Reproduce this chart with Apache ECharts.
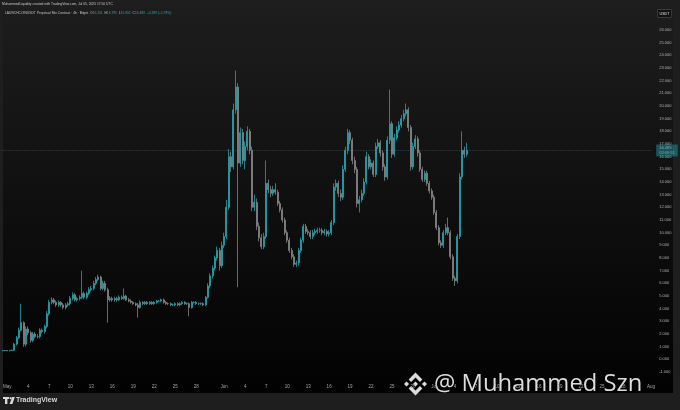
<!DOCTYPE html>
<html><head><meta charset="utf-8">
<script src="https://cdn.jsdelivr.net/npm/echarts@6/dist/echarts.min.js"></script>
<style>html,body{margin:0;padding:0;background:#1e1e1e;}#c{width:680px;height:410px;}</style>
</head><body><div id="c"></div>
<script>
// ---- time slots (8h candles), first slot Apr 30 08:00 UTC, last slot Aug 1 00:00 UTC
const firstSlotUTC = [2025, 3, 30, 8];
const slotHours = 8;
const slotCount = 279;
const tickDays = [1, 4, 7, 10, 13, 16, 19, 22, 25, 28];
const monthNames = ['Jan','Feb','Mar','Apr','May','Jun','Jul','Aug','Sep','Oct','Nov','Dec'];

// ---- candle values
const opens = [
 0.70,0.70,0.70,0.68,0.70,0.72,1.20,1.70,2.30,2.90,
 1.20,2.40,2.10,1.50,2.00,1.80,1.80,2.30,2.20,2.60,
 3.60,4.50,4.70,4.50,4.30,4.50,4.30,4.10,4.30,4.40,
 4.80,5.10,4.70,4.80,4.90,5.20,4.90,5.20,5.50,5.60,
 6.00,6.30,6.50,5.60,6.00,5.50,4.70,4.80,4.70,4.80,
 4.70,4.90,4.80,5.00,4.70,4.60,4.50,4.40,4.30,4.10,
 4.50,4.40,4.50,4.40,4.50,4.40,4.50,4.60,4.60,4.70,
 4.50,4.40,4.40,4.30,4.30,4.40,4.30,4.40,4.50,4.40,
 4.40,4.10,4.50,4.50,4.40,4.40,4.40,4.30,4.90,5.80,
 6.60,7.20,8.00,8.60,7.40,9.00,9.70,12.00,16.00,15.20,
 19.70,21.50,15.50,17.90,15.70,16.80,18.00,16.50,12.00,12.40,
 10.50,9.60,8.90,9.70,13.90,13.40,13.10,13.40,13.20,12.30,
 11.80,11.00,10.00,9.40,8.60,8.10,7.50,7.60,8.60,9.40,
 10.50,10.10,10.00,9.70,10.00,10.10,10.20,10.20,10.00,10.10,
 9.90,10.00,10.80,13.60,13.90,13.10,12.80,15.00,16.50,17.90,
 17.30,15.70,15.00,12.30,12.60,13.10,14.00,16.00,15.20,15.50,
 14.60,16.80,17.10,16.30,15.20,14.40,17.30,18.60,16.20,17.50,
 18.10,18.50,19.00,19.40,19.70,18.30,15.20,16.80,17.40,16.30,
 15.00,14.20,14.70,13.90,13.30,12.80,11.60,10.40,9.20,9.00,
 10.00,10.40,10.00,8.10,6.40,6.20,9.70,14.40,16.50,16.20
];
const closes = [
 0.70,0.70,0.68,0.70,0.72,1.20,1.70,2.30,2.90,1.20,
 2.40,2.10,1.50,2.00,1.80,1.80,2.30,2.20,2.60,3.60,
 4.50,4.70,4.50,4.30,4.50,4.30,4.10,4.30,4.40,4.80,
 5.10,4.70,4.80,4.90,5.20,4.90,5.20,5.50,5.60,6.00,
 6.30,6.50,5.60,6.00,5.50,4.70,4.80,4.70,4.80,4.70,
 4.90,4.80,5.00,4.70,4.60,4.50,4.40,4.30,4.10,4.50,
 4.40,4.50,4.40,4.50,4.40,4.50,4.60,4.60,4.70,4.50,
 4.40,4.40,4.30,4.30,4.40,4.30,4.40,4.50,4.40,4.40,
 4.10,4.50,4.50,4.40,4.40,4.40,4.30,4.90,5.80,6.60,
 7.20,8.00,8.60,7.40,9.00,9.70,12.00,16.00,15.20,19.70,
 21.50,15.50,17.90,15.70,16.80,18.00,16.50,12.00,12.40,10.50,
 9.60,8.90,9.70,13.90,13.40,13.10,13.40,13.20,12.30,11.80,
 11.00,10.00,9.40,8.60,8.10,7.50,7.60,8.60,9.40,10.50,
 10.10,10.00,9.70,10.00,10.10,10.20,10.20,10.00,10.10,9.90,
 10.00,10.80,13.60,13.90,13.10,12.80,15.00,16.50,17.90,17.30,
 15.70,15.00,12.30,12.60,13.10,14.00,16.00,15.20,15.50,14.60,
 16.80,17.10,16.30,15.20,14.40,17.30,18.60,16.20,17.50,18.10,
 18.50,19.00,19.40,19.70,18.30,15.20,16.80,17.40,16.30,15.00,
 14.20,14.70,13.90,13.30,12.80,11.60,10.40,9.20,9.00,10.00,
 10.40,10.00,8.10,6.40,6.20,9.70,14.40,16.50,16.20,16.489
];
const lows = [
 0.66,0.66,0.64,0.64,0.66,0.68,1.10,1.60,2.20,1.00,
 1.00,1.90,1.30,1.35,1.65,1.65,1.65,2.05,2.05,2.45,
 3.45,4.35,4.35,4.15,4.15,4.15,3.95,3.95,4.15,4.25,
 4.65,4.55,4.55,4.65,4.75,4.75,4.75,5.05,5.35,5.45,
 5.85,6.15,5.45,5.45,5.35,2.90,4.55,4.55,4.55,4.55,
 4.60,4.70,4.70,4.60,4.50,4.40,4.30,4.20,3.30,4.00,
 4.30,4.30,4.30,4.30,4.30,4.30,4.40,4.50,4.50,4.40,
 4.30,4.30,4.20,4.20,4.20,4.20,4.20,4.30,4.30,4.30,
 3.40,4.00,4.40,4.30,4.30,4.30,4.20,4.20,4.80,5.60,
 6.40,7.00,7.80,7.00,7.20,8.80,9.50,11.80,14.80,15.00,
 19.40,5.70,15.20,15.40,15.00,16.50,16.20,11.70,11.70,10.20,
 9.30,8.70,8.70,9.50,13.10,12.80,12.90,13.00,12.10,11.60,
 10.80,9.80,9.20,8.40,7.90,7.30,7.30,7.40,8.40,9.20,
 9.90,9.80,9.50,9.50,9.80,9.90,10.00,9.80,9.80,9.70,
 9.70,9.80,10.60,13.30,12.80,12.50,12.60,14.80,16.20,17.00,
 15.40,14.70,12.00,11.60,12.40,12.90,13.80,15.00,15.00,14.40,
 14.40,16.60,16.00,14.90,14.10,14.20,17.00,15.90,16.00,17.30,
 17.90,18.30,18.80,19.20,18.00,14.90,15.00,16.60,16.00,14.80,
 14.00,14.00,13.70,13.10,12.60,11.40,10.20,9.00,8.80,8.80,
 9.80,9.80,7.90,6.20,5.80,6.00,9.50,14.20,15.90,16.00
];
const highs = [
 0.75,0.74,0.73,0.74,0.78,1.30,1.85,2.50,4.40,3.00,
 2.60,2.60,2.25,2.15,2.15,2.00,2.45,2.45,2.75,3.80,
 4.70,4.90,4.85,4.65,4.65,4.60,4.45,4.45,4.55,5.00,
 5.30,5.25,4.95,5.05,7.00,5.35,5.35,5.70,5.80,6.20,
 6.50,6.70,6.60,6.20,6.20,5.65,5.00,4.95,4.95,4.95,
 5.05,5.05,5.60,5.10,4.85,4.75,4.60,4.50,4.45,4.65,
 4.60,4.60,4.60,4.60,4.60,4.60,4.70,4.70,4.80,4.80,
 4.60,4.50,4.50,4.40,4.50,4.50,4.50,4.60,4.60,4.50,
 4.50,4.60,4.60,4.60,4.50,4.50,4.50,5.00,6.00,6.80,
 7.40,8.20,8.90,8.80,9.30,10.00,12.60,16.60,16.40,20.20,
 22.80,21.80,18.30,18.20,17.20,18.40,18.20,16.80,13.00,12.70,
 10.80,9.90,10.00,15.70,14.20,13.70,13.70,13.90,13.40,12.50,
 12.00,11.20,10.20,9.60,8.80,8.30,7.80,8.80,9.60,10.70,
 10.70,10.30,10.20,10.20,10.30,10.40,10.40,10.35,10.30,10.25,
 10.20,11.00,13.90,14.20,14.10,13.40,15.30,16.80,18.20,18.10,
 17.50,16.00,15.20,12.90,13.40,14.30,16.40,16.20,15.80,15.70,
 17.10,17.40,17.30,16.50,15.40,17.60,21.30,18.80,17.80,18.40,
 18.80,19.30,19.70,20.20,19.90,18.50,17.10,17.70,17.60,16.50,
 15.20,14.90,14.90,14.10,13.50,13.00,11.80,10.60,9.40,10.20,
 10.70,11.20,10.20,8.30,6.60,9.90,14.70,18.00,16.80,17.10
];

// ---- axis / legend texts
const yLabelMin = -1, yLabelMax = 26;
const lastPrice = 16.489;
const countdown = '02:09:51';
const headerLine1 = 'MuhammedLiquidity created with TradingView.com, Jul 05, 2025 17:50 UTC';
const headerSymbol = 'LAUNCHCOINUSDT Perpetual Mix Contract · 4h · Bitget';
const ohlcLabels = ['O', 'H', 'L', 'C'];
const ohlcValues = ['16.201', '16.795', '15.902', '16.489'];
const changeText = '+0.289 (+1.78%)';
const watermark = '@ Muhammed Szn';

// ---- build categories
const categories = [];
for (let i = 0; i < slotCount; i++) {
  const t = new Date(Date.UTC(firstSlotUTC[0], firstSlotUTC[1], firstSlotUTC[2], firstSlotUTC[3] + i * slotHours));
  categories.push(t.toISOString().slice(0, 13));
}
const candleData = closes.map((c, i) => [opens[i], c, lows[i], highs[i]]);

function isTick(value) {
  const d = new Date(value + ':00:00Z');
  return d.getUTCHours() === 0 && tickDays.indexOf(d.getUTCDate()) >= 0;
}
function tickText(value) {
  const d = new Date(value + ':00:00Z');
  return d.getUTCDate() === 1 ? monthNames[d.getUTCMonth()] : String(d.getUTCDate());
}

let legendText = headerSymbol + '  ';
ohlcLabels.forEach((l, i) => { legendText += l + '{v|' + ohlcValues[i] + '}  '; });
legendText += '{v|' + changeText + '}';

const UP = '#26a9b5', DOWN = '#8a8a8a', MARK = '#dcdcdc';
const lg = (cx, cy, s, pts) => pts.map(p => [cx + p[0] * s, cy + p[1] * s]);
const LX = 415.5, LY = 384, LS = 11.5;

const chart = echarts.init(document.getElementById('c'));
chart.setOption({
  animation: false,
  backgroundColor: '#1e1e1e',
  grid: { left: 1.17, top: 4.7, width: 651, height: 380 },
  xAxis: {
    type: 'category', data: categories, boundaryGap: true,
    axisLine: { show: false }, axisTick: { show: false }, splitLine: { show: false },
    axisLabel: {
      interval: (idx, val) => isTick(val),
      formatter: v => tickText(v),
      color: '#a8a8a8', fontSize: 4.5, margin: 0, fontFamily: 'Liberation Sans'
    }
  },
  yAxis: {
    type: 'value', position: 'right', min: -2, max: 28, interval: 1,
    axisLine: { show: false }, axisTick: { show: false }, splitLine: { show: false },
    axisLabel: {
      formatter: v => (v < yLabelMin || v > yLabelMax) ? '' : v.toFixed(3),
      color: '#b0b0b0', fontSize: 4, margin: 7, fontFamily: 'Liberation Sans'
    }
  },
  series: [{
    type: 'candlestick', data: candleData, barWidth: 1.5,
    itemStyle: { color: UP, color0: DOWN, borderColor: UP, borderColor0: DOWN, borderWidth: 0.75 },
    markLine: {
      silent: true, symbol: ['none', 'none'],
      lineStyle: { color: '#6f8f94', type: 'dotted', width: 0.8, opacity: 0.45 },
      label: {
        show: true, position: 'end', distance: 4,
        formatter: () => lastPrice.toFixed(3) + '\n' + countdown,
        backgroundColor: '#1fa5b5', color: '#ffffff', fontSize: 4, lineHeight: 5,
        padding: [1, 3], fontFamily: 'Liberation Sans'
      },
      data: [{ yAxis: lastPrice }]
    }
  }],
  graphic: [
    { type: 'rect', z: -10, silent: true, shape: { x: 3, y: 8, width: 670, height: 385 },
      style: { fill: new echarts.graphic.LinearGradient(0, 0, 0, 1, [
        { offset: 0, color: '#1d1d1d' }, { offset: 1, color: '#020202' }]) } },
    { type: 'text', silent: true, style: { x: 2, y: 4.5, text: headerLine1, fontSize: 3.3,
      fontFamily: 'Liberation Sans', fill: '#c8c8c8', verticalAlign: 'middle' } },
    { type: 'text', silent: true, style: { x: 5, y: 13, text: legendText, fontSize: 3.3,
      fontFamily: 'Liberation Sans', fill: '#c0c0c0', verticalAlign: 'middle',
      rich: { v: { fill: UP, color: UP, fontSize: 3.3, fontFamily: 'Liberation Sans' } } } },
    { type: 'text', silent: true, style: { x: 664.5, y: 13.5, text: 'USDT', fontSize: 3.6,
      fontFamily: 'Liberation Sans', fill: '#e0e0e0', align: 'center', verticalAlign: 'middle',
      backgroundColor: '#111111', borderColor: '#5a5a5a', borderWidth: 0.5, padding: [1.5, 2] } },
    // TradingView footer
    { type: 'polygon', silent: true, shape: { points: [[3,397],[9,397],[9,399],[7.4,399],[7.4,404],[5,404],[5,399],[3,399]] }, style: { fill: '#d8d8d8' } },
    { type: 'circle', silent: true, shape: { cx: 10.6, cy: 398.2, r: 1.1 }, style: { fill: '#d8d8d8' } },
    { type: 'polygon', silent: true, shape: { points: [[12.2,397],[14.8,397],[12.4,404],[9.6,404]] }, style: { fill: '#d8d8d8' } },
    { type: 'text', silent: true, style: { x: 16, y: 400.5, text: 'TradingView', fontSize: 7,
      fontWeight: 'bold', fontFamily: 'Liberation Sans', fill: '#d8d8d8', verticalAlign: 'middle' } },
    // watermark logo
    { type: 'polygon', silent: true, shape: { points: lg(LX, LY, LS, [[0,-0.22],[0.22,0],[0,0.22],[-0.22,0]]) }, style: { fill: MARK } },
    { type: 'polygon', silent: true, shape: { points: lg(LX, LY, LS, [[-0.78,-0.22],[-0.56,0],[-0.78,0.22],[-1,0]]) }, style: { fill: MARK } },
    { type: 'polygon', silent: true, shape: { points: lg(LX, LY, LS, [[0.78,-0.22],[1,0],[0.78,0.22],[0.56,0]]) }, style: { fill: MARK } },
    { type: 'polygon', silent: true, shape: { points: lg(LX, LY, LS, [[0,-1],[0.6,-0.4],[0.38,-0.18],[0,-0.56],[-0.38,-0.18],[-0.6,-0.4]]) }, style: { fill: MARK } },
    { type: 'polygon', silent: true, shape: { points: lg(LX, LY, LS, [[0,1],[0.6,0.4],[0.38,0.18],[0,0.56],[-0.38,0.18],[-0.6,0.4]]) }, style: { fill: MARK } },
    { type: 'text', silent: true, style: { x: 434, y: 384, text: watermark, fontSize: 23.8,
      fontFamily: 'Open Sans', fill: MARK, verticalAlign: 'middle' } }
  ]
});
</script>
</body></html>
